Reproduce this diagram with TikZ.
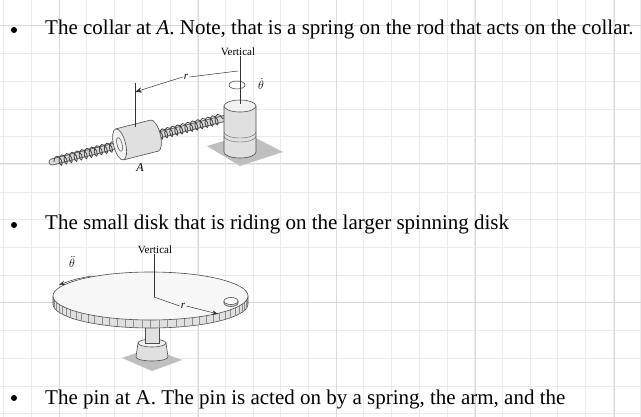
\documentclass[tikz,border=0pt]{standalone}
\usepackage{fontspec}
\setmainfont{Liberation Serif}
\usetikzlibrary{decorations.pathmorphing,arrows.meta}
\begin{document}
\begin{tikzpicture}[x=1pt,y=-1pt,
  body/.style={font=\fontsize{21}{25}\selectfont, anchor=base west, inner sep=0},
  lbl/.style={font=\fontsize{11}{13}\selectfont, inner sep=0},
  bul/.style={circle, fill=black, inner sep=0, minimum size=6},
  part/.style={draw=black!70, line width=0.6, fill=black!12},
  thin/.style={line width=0.5, draw=black!80}]
\useasboundingbox (0,0) rectangle (641,417);
\fill[white] (0,0) rectangle (641,417);
% grid
\foreach \x in {3.6,31.3,...,641} \draw[black!8, line width=0.6] (\x,0) -- (\x,417);
\foreach \y in {-1.9,25.8,...,417} \draw[black!8, line width=0.6] (0,\y) -- (641,\y);
\foreach \x in {59.3,198,336.7,475.3,614} \draw[black!15, line width=1] (\x,0) -- (\x,417);
\foreach \y in {25.7,164,302.3} \draw[black!15, line width=1] (0,\y) -- (641,\y);
% texts
\node[bul] (b1) at (14,30) {};
\node[body] (t1) at (45,35) {The collar at \textit{A}. Note, that is a spring on the rod that acts on the collar.};
\node[bul] (b2) at (14,225) {};
\node[body] (t2) at (45,230) {The small disk that is riding on the larger spinning disk};
\node[bul] (b3) at (14,398) {};
\node[body] (t3) at (45,404) {The pin at A. The pin is acted on by a spring, the arm, and the};
% ---------- figure 1 ----------
\fill[black!25] (207,146) -- (248,134) -- (283,152) -- (240,166) -- cycle;
\draw[black!60, line width=7, line cap=round] (52,162) -- (226,118);
\draw[black!15, line width=5, line cap=round] (52,162) -- (226,118);
\draw[black!75, line width=0.8, decoration={coil, aspect=0.5, segment length=5.2, amplitude=5}, decorate] (54,162) -- (224,118);
% post
\draw[part] (224,106) -- (224,152) arc[start angle=180, end angle=0, x radius=16, y radius=6] -- (256,106);
\draw[part, fill=black!5] (240,106) ellipse[x radius=16, y radius=6];
\draw[black!60] (224,132) arc[start angle=180, end angle=0, x radius=16, y radius=6];
\draw[black!60] (224,136) arc[start angle=180, end angle=0, x radius=16, y radius=6];
% collar
\draw[part] (154.4,135.6) ellipse[x radius=6, y radius=16, rotate=14];
\fill[black!12] (115.7,128.9) -- (150.5,120.1) -- (158.3,151.1) -- (123.5,159.9) -- cycle;
\draw[black!70, line width=0.6] (115.7,128.9) -- (150.5,120.1) (158.3,151.1) -- (123.5,159.9);
\draw[part, fill=black!5] (119.6,144.4) ellipse[x radius=6, y radius=16, rotate=14];
\draw[black!70, line width=0.5] (119.6,144.4) ellipse[x radius=2.5, y radius=7, rotate=14];
\node[lbl, font=\fontsize{12}{14}\selectfont\itshape] (A) at (140,168) {A};
% vertical, r
\node[lbl] (v1) at (238,52) {Vertical};
\coordinate (v1b) at (240,104);
\draw[thin] (v1.south -| v1b) -- (v1b);
\coordinate (c1) at (135,127);
\coordinate (c1t) at (135,83);
\draw[thin] (c1t) -- (c1);
\coordinate (rr) at (238,71);
\node[lbl, font=\fontsize{11}{13}\selectfont\itshape, fill=white, inner sep=1] (r1) at (186,77) {r};
\draw[thin, -{Stealth[length=7]}] (r1.west) -- (135,92);
\draw[thin] (r1.east) -- (rr);
\draw[thin] (237,85) ellipse[x radius=8, y radius=4];
\node[lbl, font=\fontsize{12}{14}\selectfont] (td) at (261,84) {$\dot\theta$};
% ---------- figure 2 ----------
\fill[black!25] (122,358) -- (150,348) -- (182,360) -- (152,371) -- cycle;
\draw[part] (138,343) -- (136,357) arc[start angle=180, end angle=0, x radius=16, y radius=4] -- (166,343);
\draw[part, fill=black!5] (152,343) ellipse[x radius=14, y radius=4];
\draw[part] (145,325) rectangle (159,343);
% disk
\draw[part] (53,296) -- (53,304) arc[start angle=180, end angle=0, x radius=97.5, y radius=24] -- (248,296);
\foreach \a in {185,190,...,355} \draw[black!45, line width=0.4] ({150.5+97.5*cos(\a)},{296-24*sin(\a)}) -- ++(0,8);
\draw[part, fill=black!3] (150.5,296) ellipse[x radius=97.5, y radius=24];
% small disk
\draw[part, fill=black!15] (224,301) -- (224,303) arc[start angle=180, end angle=0, x radius=7, y radius=3.5] -- (238,301);
\draw[part, fill=white] (231,301) ellipse[x radius=7, y radius=3.5];
% vertical, r
\node[lbl] (v2) at (155,250) {Vertical};
\coordinate (o2) at (154,297);
\draw[thin] (v2.south -| o2) -- (o2);
\coordinate (p2) at (218,314);
\node[lbl, font=\fontsize{11}{13}\selectfont\itshape, fill=black!3, inner sep=1] (r2) at (183,306) {r};
\draw[thin] (o2) -- (r2.west);
\draw[thin, -{Stealth[length=6]}] (r2.east) -- (p2);
% theta ddot
\node[lbl, font=\fontsize{12}{14}\selectfont] (tdd) at (72,262) {$\ddot\theta$};
\draw[thin, -{Stealth[length=6]}] (92,276) to[bend right=6] (59,285);
\end{tikzpicture}
\end{document}
